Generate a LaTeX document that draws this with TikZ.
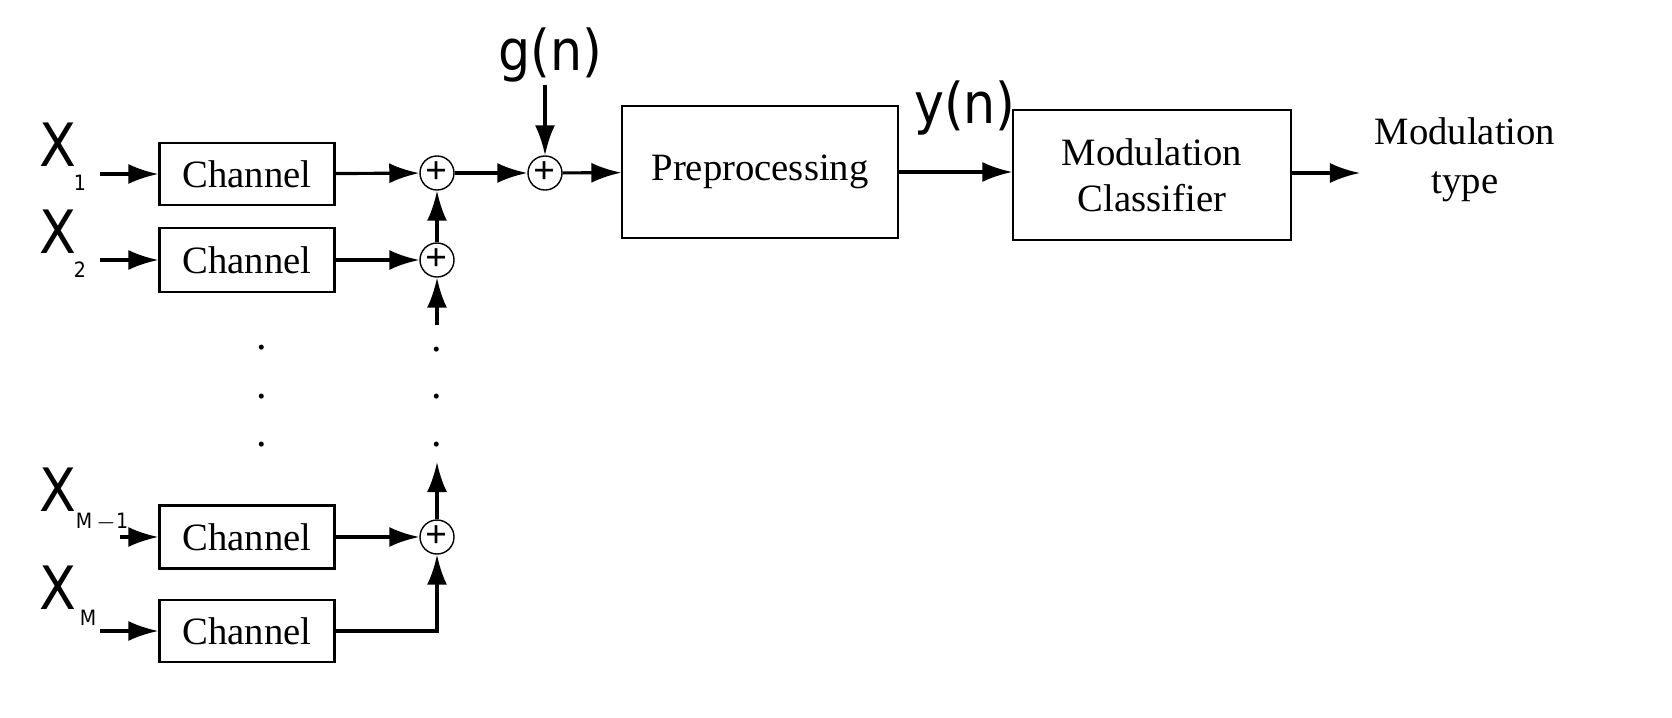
\documentclass[tikz,border=0pt]{standalone}
\usepackage{fontspec}
\setmainfont{Liberation Serif}
\newfontfamily\condsans{DejaVu Sans Condensed}
\usetikzlibrary{arrows.meta,calc}
\begin{document}
\begin{tikzpicture}[x=0.01cm,y=-0.01cm,
    blk/.style={draw, line width=0.6pt, font=\fontsize{11}{13}\selectfont, align=center, inner sep=0pt},
    sum/.style={draw, circle, minimum size=0.34cm, inner sep=0pt, font=\bfseries\fontsize{11}{11}\selectfont},
    arr/.style={-{Latex[length=0.3cm,width=0.2cm]}, line width=0.9pt},
    lab/.style={font=\condsans\fontsize{17}{20}\selectfont, inner sep=0pt},
    sub/.style={font=\condsans\fontsize{6}{7}\selectfont, inner sep=0pt},
    dot/.style={font=\fontsize{12}{12}\selectfont}
]
\useasboundingbox (0,0) rectangle (1672,718);

% channel blocks
\node[blk, minimum width=1.75cm, minimum height=0.62cm] (c1) at (247,174) {Channel};
\node[blk, minimum width=1.75cm, minimum height=0.64cm] (c2) at (247,260) {Channel};
\node[blk, minimum width=1.75cm, minimum height=0.63cm] (c3) at (247,537) {Channel};
\node[blk, minimum width=1.75cm, minimum height=0.62cm] (c4) at (247,631) {Channel};

% inputs
\node[lab] (x1) at (58,145) {X};   \node[sub] (s1) at (80,183) {1};
\node[lab] (x2) at (58,232) {X};   \node[sub] (s2) at (80,270) {2};
\node[lab] (x3) at (58,490) {X};   \node[sub] (s3) at (102,522) {M\,$-$1};
\node[lab] (x4) at (58,588) {X};   \node[sub] (s4) at (88,618) {M};
\coordinate (i1) at (100,174); \coordinate (i2) at (100,260);
\coordinate (i3) at (120,537); \coordinate (i4) at (100,631);
\draw[arr] (i1) -- (c1);
\draw[arr] (i2) -- (c2);
\draw[arr] (i3) -- (c3);
\draw[arr] (i4) -- (c4);

% dots under channels
\node[dot] (d1) at (262,348) {.};
\node[dot] (d2) at (262,397) {.};
\node[dot] (d3) at (262,445) {.};

% adders
\node[sum] (a1) at (437,173) {+};
\node[sum] (a2) at (437,260) {+};
\node[sum] (a3) at (437,537) {+};
\node[sum] (a4) at (545,173) {+};

\draw[arr] (c1) -- (a1);
\draw[arr] (c2) -- (a2);
\draw[arr] (c3) -- (a3);
\draw[arr] (a2) -- (a1);
\coordinate (m1) at (437,325);
\draw[arr] (m1) -- (a2);
\node[dot] (e1) at (437,350) {.};
\node[dot] (e2) at (437,397) {.};
\node[dot] (e3) at (437,445) {.};
\coordinate (m2) at (437,462);
\draw[arr] (a3) -- (m2);
\coordinate (k4) at (437,631);
\draw[arr] (c4) -- (k4) -- (a3);

% noise
\node[font=\condsans\fontsize{16}{20}\selectfont] (g) at (550,55) {g(n)};
\coordinate (g0) at (545,85);
\draw[arr] (g0) -- (a4);
\draw[arr] (a1) -- (a4);

% preprocessing and classifier
\node[blk, minimum width=2.75cm, minimum height=1.32cm] (pre) at (760,172) {Preprocessing};
\node[blk, minimum width=2.77cm, minimum height=1.30cm] (cls) at (1152,175) {Modulation\\Classifier};
\draw[arr] (a4) -- (pre);
\draw[arr] (pre.east) -- (cls.west |- pre.east);
\node[font=\condsans\fontsize{16}{20}\selectfont] (y) at (965,108) {y(n)};

% output
\coordinate (o) at (1360,173);
\draw[arr] (cls.east |- o) -- (o);
\node[font=\fontsize{11}{14}\selectfont, align=center] (t) at (1465,160) {Modulation\\type};
\end{tikzpicture}
\end{document}
